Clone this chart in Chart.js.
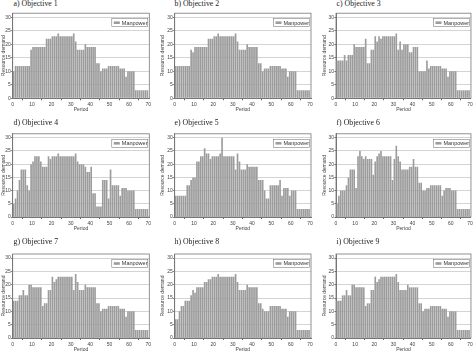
<!DOCTYPE html>
<html>
<head>
<meta charset="utf-8">
<script src="https://cdn.jsdelivr.net/npm/chart.js@4.4.1/dist/chart.umd.min.js"></script>
<style>
  body { margin: 0; background: #fff; width: 474px; height: 351px; overflow: hidden; position: relative; }
  canvas { position: absolute; }
  .ttl { position: absolute; font-family: "Liberation Serif", serif; font-size: 7.8px; line-height: 7.8px; color: #222; white-space: nowrap; }
</style>
</head>
<body>
<script>
const titles = ["a) Objective 1", "b) Objective 2", "c) Objective 3",
                "d) Objective 4", "e) Objective 5", "f) Objective 6",
                "g) Objective 7", "h) Objective 8", "i) Objective 9"];
const seriesLabel = "Manpower";
const xTitle = "Period";
const yTitle = "Resource demand";
const xTicks = [0, 10, 20, 30, 40, 50, 60, 70];
const yTicks = [0, 5, 10, 15, 20, 25, 30];

// manpower demand per period (periods 0..69)
const obj1 = [10,12,12,12,12,12,12,12,12,18, 19,19,19,19,19,19,19,22,22,22, 23,23,23,24,23,23,23,23,23,23, 23,24,21,18,18,18,18,20,19,19, 19,19,19,13,13,10,11,11,11,12, 12,12,12,12,12,11,11,11,8,10, 10,10,10,3,3,3,3,3,3,3];
const obj2 = [12,12,12,12,12,12,12,12,18,17, 19,19,19,19,19,19,19,22,22,22, 23,23,24,23,23,23,23,23,23,23, 23,24,21,18,18,18,18,20,19,19, 19,19,19,13,13,10,11,11,11,12, 12,12,12,12,12,11,11,11,8,10, 10,10,10,3,3,3,3,3,3,3];
const obj3 = [14,14,14,14,16,14,16,16,16,20, 19,19,19,19,19,22,13,13,18,18, 23,21,23,22,23,23,23,23,23,23, 23,24,18,21,18,20,20,20,17,17, 19,19,19,10,10,10,10,14,11,12, 12,12,12,12,12,11,11,11,8,10, 10,10,10,3,3,3,3,3,3,3];
const obj4 = [5,7,10,14,18,18,18,12,10,20, 21,23,23,23,21,19,19,19,23,22, 23,23,23,24,23,23,23,23,23,23, 23,23,24,21,20,20,20,19,17,17, 19,9,9,4,4,4,14,14,14,7, 18,12,12,12,12,8,11,11,11,10, 10,10,10,3,3,3,3,3,3,3];
const obj5 = [8,8,8,8,8,8,12,12,14,15, 15,21,21,23,23,26,24,24,22,23, 23,23,23,24,30,23,23,23,23,23, 23,18,24,21,18,18,18,20,19,19, 19,19,19,14,14,14,10,7,7,12, 12,12,12,12,14,8,11,11,11,8, 10,10,10,3,3,3,3,3,3,3];
const obj6 = [5,8,10,10,10,12,15,18,18,18, 11,23,25,23,22,23,22,22,22,16, 21,23,24,25,23,23,23,23,23,14, 22,27,23,21,18,18,18,18,19,19, 22,19,19,13,13,10,10,11,11,12, 12,12,12,12,12,8,10,11,11,11, 10,10,10,3,3,3,3,3,3,3];
const obj7 = [14,14,14,16,16,18,16,16,20,20, 19,19,19,19,19,12,13,13,18,18, 23,21,22,23,23,23,23,23,23,23, 23,18,24,21,18,18,18,20,19,19, 19,19,19,13,13,10,11,11,11,12, 12,12,12,12,12,11,11,11,8,10, 10,10,10,3,3,3,3,3,3,3];
const obj8 = [7,7,10,12,12,14,14,14,16,18, 17,19,19,19,19,21,21,22,22,23, 23,23,24,23,23,23,23,23,23,23, 23,24,21,18,18,18,18,20,19,19, 19,19,19,13,13,11,10,10,10,12, 12,12,12,12,12,11,11,11,8,10, 10,10,10,3,3,3,3,3,3,3];
const obj9 = [14,14,14,16,16,18,16,16,20,20, 19,19,19,19,19,12,13,13,18,18, 23,21,22,23,23,23,23,23,23,23, 23,24,21,18,18,18,18,20,19,19, 19,19,19,13,13,10,11,11,11,12, 12,12,12,12,12,11,11,11,8,10, 10,10,10,3,3,3,3,3,3,3];

const allSeries = [obj1, obj2, obj3, obj4, obj5, obj6, obj7, obj8, obj9];

Chart.defaults.font.family = "'Liberation Sans', Arial, sans-serif";

const barColor = "#9c9c9c";
const cellW = 158, canvasH = 120;
const colX = [0, 158, 316];
const rowY = [0, 117, 234];
const titleX = [13.5, 174.5, 336.5];
const titleY = [-0.2, 118.8, 237.5];
// plot box inside each cell
const colBox = [{ l: 12.7, r: 149.3, pad: 0.5 }, { l: 16.7, r: 153, pad: 2 }, { l: 20, r: 157, pad: 5.3 }];
const rowBox = [{ t: 13.2, b: 98.3, tb: 7.5 }, { t: 16.8, b: 100, tb: 5.3 }, { t: 20, b: 104, tb: 1.3 }];

const frameLegend = {
  id: "frameLegend",
  afterDatasetsDraw(chart) {
    const { ctx, chartArea: a } = chart;
    ctx.save();
    ctx.strokeStyle = "#777";
    ctx.lineWidth = 0.8;
    ctx.strokeRect(a.left, a.top, a.right - a.left, a.bottom - a.top);
    // legend box in the top right corner
    const w = 36, h = 8;
    const x = a.right - 1.5 - w, y = a.top + 5.5;
    ctx.fillStyle = "#fff";
    ctx.fillRect(x, y, w, h);
    ctx.strokeStyle = "#666";
    ctx.lineWidth = 0.5;
    ctx.strokeRect(x, y, w, h);
    ctx.fillStyle = barColor;
    ctx.fillRect(x + 2, y + h / 2 - 1.3, 6, 2.6);
    ctx.fillStyle = "#333";
    ctx.font = "5.5px 'Liberation Sans'";
    ctx.textBaseline = "middle";
    ctx.fillText(seriesLabel, x + 10, y + h / 2 + 0.3);
    ctx.restore();
  }
};

function drawPanel(k) {
  const c = k % 3, r = Math.floor(k / 3);
  const cb = colBox[c], rb = rowBox[r];

  const t = document.createElement("div");
  t.className = "ttl";
  t.style.left = titleX[c] + "px";
  t.style.top = titleY[r] + "px";
  t.textContent = titles[k];
  document.body.appendChild(t);

  const cv = document.createElement("canvas");
  cv.width = cellW; cv.height = canvasH;
  cv.style.left = colX[c] + "px";
  cv.style.top = rowY[r] + "px";
  cv.style.width = cellW + "px";
  cv.style.height = canvasH + "px";
  document.body.appendChild(cv);

  new Chart(cv, {
    type: "bar",
    data: {
      datasets: [{
        label: seriesLabel,
        data: allSeries[k].map((v, i) => ({ x: i + 0.5, y: v })),
        backgroundColor: barColor,
        barPercentage: 1,
        categoryPercentage: 0.86
      }]
    },
    options: {
      responsive: false,
      animation: false,
      layout: { padding: { left: cb.pad, top: rb.t, right: cellW - cb.r, bottom: 0 } },
      plugins: { legend: { display: false }, tooltip: { enabled: false } },
      scales: {
        x: {
          type: "linear", min: 0, max: 70.5, offset: false,
          afterBuildTicks: s => { s.ticks = xTicks.map(v => ({ value: v })); },
          afterFit: s => { s.height = canvasH - rb.b; },
          grid: { drawOnChartArea: false, tickLength: 2, tickColor: "#666" },
          border: { color: "#777" },
          ticks: { font: { size: 5 }, color: "#444", padding: 1.2, maxRotation: 0, autoSkip: false },
          title: { display: true, text: xTitle, font: { size: 5 }, color: "#444", padding: { top: 0, bottom: rb.tb } }
        },
        y: {
          min: 0, max: 31.5,
          afterBuildTicks: s => { s.ticks = yTicks.map(v => ({ value: v })); },
          afterFit: s => { s.width = cb.l - cb.pad; },
          grid: { color: "#d4d4d4", tickLength: 1.5, tickColor: "#666" },
          border: { color: "#777" },
          ticks: { font: { size: 5 }, color: "#444", padding: 0.5 },
          title: { display: true, text: yTitle, font: { size: 5 }, color: "#444", padding: { top: 0, bottom: 0 } }
        }
      }
    },
    plugins: [frameLegend]
  });
}

for (let k = 0; k < 9; k++) drawPanel(k);
</script>
</body>
</html>
